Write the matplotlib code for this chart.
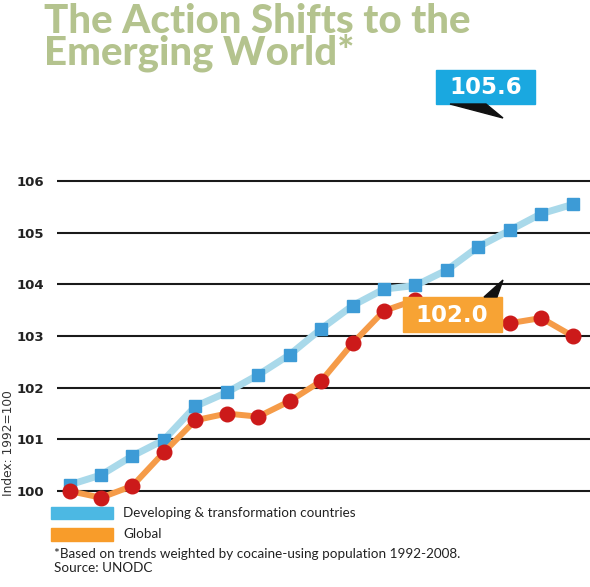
import numpy as np
import matplotlib
matplotlib.use("Agg")
import matplotlib.pyplot as plt
from matplotlib.patches import Rectangle, Polygon

# values, index 1992 = 100
years = list(range(1992, 2009))
developing = [100.12, 100.31, 100.68, 100.99, 101.64, 101.91, 102.25, 102.64,
              103.14, 103.59, 103.91, 103.98, 104.28, 104.73, 105.05, 105.37, 105.55]
global_idx = [100.0, 99.87, 100.10, 100.75, 101.37, 101.50, 101.44, 101.74,
              102.13, 102.86, 103.49, 103.70, 103.55, 103.35, 103.25, 103.35, 103.0]
y_ticks = [100, 101, 102, 103, 104, 105, 106]

W, H = 590, 587
fig = plt.figure(figsize=(W / 100, H / 100), dpi=100)


def fx(px):
    return px / W


def fy(py):
    # pixel measured from top -> figure fraction
    return 1 - py / H


# axes box in pixels: left 57, right 590, top 160, bottom 500
ax = fig.add_axes([fx(57), fy(500), fx(590 - 57), (500 - 160) / H])
ax.set_xlim(1991.6, 2008.55)
ax.set_ylim(99.826, 106.41)
for s in ax.spines.values():
    s.set_visible(False)
ax.set_xticks([])
ax.set_yticks(y_ticks)
ax.tick_params(axis="y", length=0, pad=9)
for lab in ax.get_yticklabels():
    lab.set_fontweight("bold")
    lab.set_fontsize(9.5)
    lab.set_color("#222222")
for v in y_ticks:
    ax.axhline(v, color="#1a1a1a", lw=1.5, zorder=1)

ax.plot(years, developing, color="#a9d9ea", lw=5, zorder=3, clip_on=False,
        solid_joinstyle="round")
ax.plot(years, developing, ls="none", marker="s", ms=9, mfc="#3d9bd6",
        mec="#3d9bd6", zorder=4, clip_on=False)
ax.plot(years, global_idx, color="#f59b48", lw=4.3, zorder=5, clip_on=False,
        solid_joinstyle="round")
ax.plot(years, global_idx, ls="none", marker="o", ms=10.5, mfc="#cc1a1a",
        mec="#cc1a1a", zorder=6, clip_on=False)

fig.text(fx(9), fy(443), "Index: 1992=100", rotation=90, ha="center",
         va="center", fontsize=8.8, color="#333333")

# title (one two-line text, aligned on the last baseline)
fig.text(fx(44), fy(64), "The Action Shifts to the\nEmerging World*",
         ha="left", va="baseline", fontsize=29, fontweight="black",
         family="Lato", color="#b4c38e", linespacing=0.79)

# callout boxes
fig.patches.append(Rectangle((fx(436), fy(104)), fx(99), 34 / H,
                             transform=fig.transFigure, color="#1aa8e0",
                             zorder=10))
fig.patches.append(Polygon([(fx(450), fy(104)), (fx(486), fy(104)),
                            (fx(503), fy(118))], closed=True,
                           transform=fig.transFigure, color="#111111",
                           zorder=10))
fig.text(fx(485.5), fy(87.5), "105.6", ha="center", va="center",
         fontsize=16.5, fontweight="bold", color="white", zorder=11)

fig.patches.append(Rectangle((fx(403), fy(332)), fx(99), 35 / H,
                             transform=fig.transFigure, color="#f7a334",
                             zorder=10))
fig.patches.append(Polygon([(fx(484), fy(297)), (fx(497), fy(297)),
                            (fx(503), fy(280))], closed=True,
                           transform=fig.transFigure, color="#111111",
                           zorder=10))
fig.text(fx(452), fy(315), "102.0", ha="center", va="center",
         fontsize=16.5, fontweight="bold", color="white", zorder=11)

# legend
fig.patches.append(Rectangle((fx(51), fy(519)), fx(62), 12 / H,
                             transform=fig.transFigure, color="#4cb8e3"))
fig.patches.append(Rectangle((fx(51), fy(541)), fx(62), 13 / H,
                             transform=fig.transFigure, color="#f89c2a"))
fig.text(fx(123), fy(513), "Developing & transformation countries",
         ha="left", va="center", fontsize=9.7, family="Lato", color="#222222")
fig.text(fx(123), fy(534), "Global", ha="left", va="center", fontsize=9.7,
         family="Lato", color="#222222")

fig.text(fx(54), fy(554),
         "*Based on trends weighted by cocaine-using population 1992-2008.",
         ha="left", va="center", fontsize=9.7, family="Lato", color="#222222")
fig.text(fx(54), fy(568), "Source: UNODC", ha="left", va="center",
         fontsize=9.7, family="Lato", color="#222222")

fig.savefig("out.png", dpi=100)
